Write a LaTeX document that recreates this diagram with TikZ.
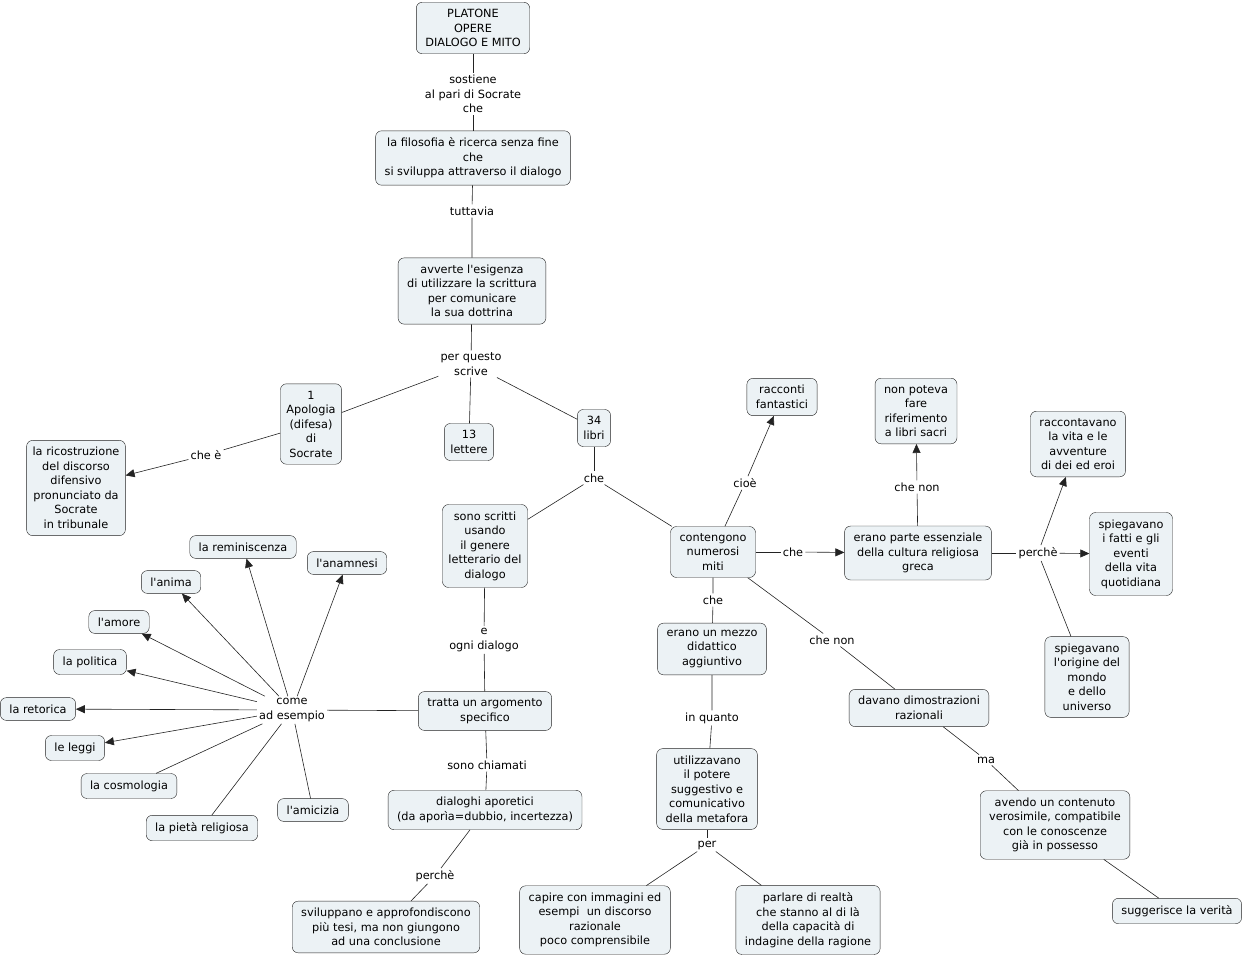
\documentclass[tikz,border=0pt]{standalone}
\usepackage{fontspec}
\setmainfont{DejaVu Sans}[Ligatures=TeXOff]
\usetikzlibrary{arrows.meta}
\definecolor{conceptfill}{RGB}{236,242,245}
\definecolor{conceptline}{RGB}{35,35,35}

\begin{document}
\begin{tikzpicture}[
        x=1pt, y=-1pt,
        font=\fontsize{11.3}{14.5}\selectfont,
        >={Triangle[length=9pt,width=8pt]},
        concept/.style={draw=conceptline, rounded corners=6pt, fill=conceptfill, align=center, inner xsep=9pt, inner ysep=7pt},
        link/.style={align=center, inner sep=2pt},
        line/.style={draw=conceptline, semithick},
        arrow/.style={line, ->}
    ]
        \useasboundingbox (0,0) rectangle (1247,961);

        % main chain
        \node[concept] (platone) at (473,28) {PLATONE\\OPERE\\DIALOGO E MITO};
        \node[link] (sostiene) at (473,94) {sostiene\\al pari di Socrate\\che};
        \node[concept] (filosofia) at (473,158) {la filosofia è ricerca senza fine\\che\\si sviluppa attraverso il dialogo};
        \node[link] (tuttavia) at (472,211) {tuttavia};
        \node[concept] (avverte) at (472,291) {avverte l'esigenza\\di utilizzare la scrittura\\per comunicare\\la sua dottrina};
        \node[link] (scrive) at (471,364) {per questo\\scrive};

        % opere
        \node[concept, inner xsep=6pt] (apologia) at (311,424) {1\\Apologia\\(difesa)\\di\\Socrate};
        \node[link] (cheE) at (206,455) {che è};
        \node[concept, inner xsep=6pt] (ricostruzione) at (76,488) {la ricostruzione\\del discorso\\difensivo\\pronunciato da\\Socrate\\in tribunale};
        \node[concept, inner xsep=6pt] (lettere) at (469,442) {13\\lettere};
        \node[concept, inner xsep=6pt] (libri) at (594,428) {34\\libri};
        \node[link] (cheLibri) at (594,478) {che};

        % dialoghi
        \node[concept, inner xsep=6pt] (scritti) at (485,546) {sono scritti\\usando\\il genere\\letterario del\\dialogo};
        \node[link] (ogni) at (484,640) {e\\ogni dialogo};
        \node[concept] (tratta) at (485,711) {tratta un argomento\\specifico};
        \node[link] (chiamati) at (487,765) {sono chiamati};
        \node[concept] (aporetici) at (485,810) {dialoghi aporetici\\(da aporìa=dubbio, incertezza)};
        \node[link] (percheApo) at (435,876) {perchè};
        \node[concept] (sviluppano) at (386,927) {sviluppano e approfondiscono\\più tesi, ma non giungono\\ad una conclusione};

        % esempi
        \node[link] (esempio) at (292,710) {come\\ad esempio};
        \node[concept] (reminiscenza) at (243,547) {la reminiscenza};
        \node[concept] (anamnesi) at (347,563) {l'anamnesi};
        \node[concept] (anima) at (171,582) {l'anima};
        \node[concept] (amore) at (119,622) {l'amore};
        \node[concept] (politica) at (90,662) {la politica};
        \node[concept] (retorica) at (38,709) {la retorica};
        \node[concept] (leggi) at (75,748) {le leggi};
        \node[concept] (cosmologia) at (129,786) {la cosmologia};
        \node[concept] (pieta) at (202,828) {la pietà religiosa};
        \node[concept] (amicizia) at (313,810) {l'amicizia};

        % miti
        \node[concept] (miti) at (713,552) {contengono\\numerosi\\miti};
        \node[link] (cioe) at (745,483) {cioè};
        \node[concept] (racconti) at (782,397) {racconti\\fantastici};
        \node[link] (cheMiti) at (793,552) {che};
        \node[concept] (cultura) at (918,553) {erano parte essenziale\\della cultura religiosa\\greca};
        \node[link] (cheNonSacri) at (917,487) {che non};
        \node[concept] (sacri) at (916,411) {non poteva\\fare\\riferimento\\a libri sacri};
        \node[link] (percheMiti) at (1038,553) {perchè};
        \node[concept] (eroi) at (1078,444) {raccontavano\\la vita e le\\avventure\\di dei ed eroi};
        \node[concept] (fatti) at (1131,554) {spiegavano\\i fatti e gli\\eventi\\della vita\\quotidiana};
        \node[concept] (origine) at (1087,677) {spiegavano\\l'origine del\\mondo\\e dello\\universo};
        \node[link] (cheMezzo) at (713,600) {che};
        \node[concept] (mezzo) at (712,649) {erano un mezzo\\didattico\\aggiuntivo};
        \node[link] (inquanto) at (712,718) {in quanto};
        \node[concept] (metafora) at (707,789) {utilizzavano\\il potere\\suggestivo e\\comunicativo\\della metafora};
        \node[link] (per) at (707,845) {per};
        \node[concept] (capire) at (595,920) {capire con immagini ed\\esempi\ \ un discorso\\razionale\\poco comprensibile};
        \node[concept] (parlare) at (808,920) {parlare di realtà\\che stanno al di là\\della capacità di\\indagine della ragione};
        \node[link] (cheNon) at (832,640) {che non};
        \node[concept] (davano) at (919,708) {davano dimostrazioni\\razionali};
        \node[link] (ma) at (986,760) {ma};
        \node[concept] (avendo) at (1055,825) {avendo un contenuto\\verosimile, compatibile\\con le conoscenze\\già in possesso};
        \node[concept] (verita) at (1177,911) {suggerisce la verità};

        % connectors
        \draw[line] (platone) -- (sostiene) -- (filosofia);
        \draw[line] (filosofia) -- (tuttavia) -- (avverte);
        \draw[line] (avverte) -- (scrive);
        \draw[line] (scrive) -- (apologia);
        \draw[line] (scrive) -- (lettere);
        \draw[line] (scrive) -- (libri);
        \draw[line] (apologia) -- (cheE);
        \draw[arrow] (cheE) -- (ricostruzione);
        \draw[line] (libri) -- (cheLibri);
        \draw[line] (cheLibri) -- (scritti);
        \draw[line] (cheLibri) -- (miti);
        \draw[line] (scritti) -- (ogni) -- (tratta);
        \draw[line] (tratta) -- (chiamati) -- (aporetici);
        \draw[line] (aporetici) -- (percheApo) -- (sviluppano);
        \draw[line] (tratta) -- (esempio);
        \foreach \target in {reminiscenza, anamnesi, anima, amore, politica, retorica, leggi}
            \draw[arrow] (esempio) -- (\target);
        \foreach \target in {cosmologia, pieta, amicizia}
            \draw[line] (esempio) -- (\target);
        \draw[line] (miti) -- (cioe);
        \draw[arrow] (cioe) -- (racconti);
        \draw[line] (miti) -- (cheMiti);
        \draw[arrow] (cheMiti) -- (cultura);
        \draw[line] (cultura) -- (cheNonSacri);
        \draw[arrow] (cheNonSacri) -- (sacri);
        \draw[line] (cultura) -- (percheMiti);
        \draw[arrow] (percheMiti) -- (eroi);
        \draw[arrow] (percheMiti) -- (fatti);
        \draw[line] (percheMiti) -- (origine);
        \draw[line] (miti) -- (cheMezzo) -- (mezzo);
        \draw[line] (mezzo) -- (inquanto) -- (metafora);
        \draw[line] (metafora) -- (per);
        \draw[line] (per) -- (capire);
        \draw[line] (per) -- (parlare);
        \draw[line] (miti) -- (cheNon) -- (davano);
        \draw[line] (davano) -- (ma) -- (avendo);
        \draw[line] (avendo) -- (verita);
    \end{tikzpicture}
\end{document}
